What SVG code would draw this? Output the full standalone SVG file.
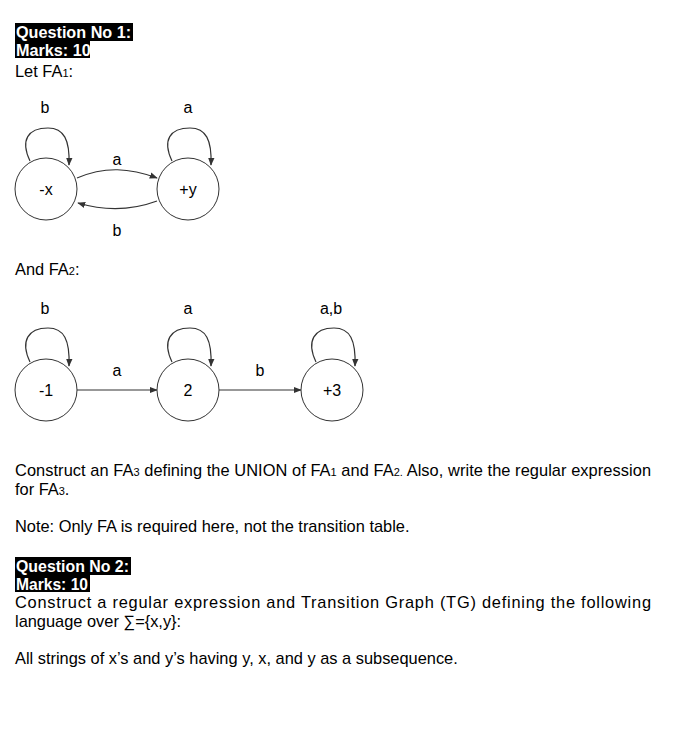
<svg xmlns="http://www.w3.org/2000/svg" width="681" height="729" viewBox="0 0 681 729">
<defs>
<style>
.t{font-family:"Liberation Sans",Arial,sans-serif;font-size:16.4px;fill:#000}
.h{font-family:"Liberation Sans",Arial,sans-serif;font-size:16.2px;font-weight:bold;fill:#fff}
.lbl{font-family:"Liberation Sans",Arial,sans-serif;font-size:16px;fill:#000;text-anchor:middle}
.st{fill:#fff;stroke:#333;stroke-width:1}
.e{fill:none;stroke:#333;stroke-width:1.2;marker-end:url(#ah)}
.sub{font-size:11px}
</style>
<marker id="ah" viewBox="0 0 10 10" refX="9" refY="5" markerWidth="8" markerHeight="8" markerUnits="userSpaceOnUse" orient="auto">
<path d="M0,1 L10,5 L0,9 z" fill="#333"/>
</marker>
</defs>
<rect width="681" height="729" fill="#fff"/>

<g id="header1">
<rect x="15" y="23" width="118" height="18" fill="#000"/>
<rect x="15" y="41" width="75" height="17" fill="#000"/>
<text class="h" x="16" y="38">Question No 1:</text>
<text class="h" x="16" y="56">Marks: 10</text>
</g>
<text class="t" x="15" y="77">Let FA<tspan class="sub">1</tspan>:</text>

<g id="connectors">
<path class="e" d="M30,161 C20,140 28,128 48,128 C64,128 70,140 69,165"/>
<path class="e" d="M172,161 C162,140 170,128 190,128 C206,128 212,140 211,165"/>
<path class="e" d="M77,178 C105,166 130,168 157,178"/>
<path class="e" d="M157,201 C130,211 105,211 78,203"/>
<path class="e" d="M30,362 C20,341 28,328 48,328 C64,328 70,340 69,366"/>
<path class="e" d="M172,362 C162,341 170,328 190,328 C206,328 212,340 211,366"/>
<path class="e" d="M316,362 C306,341 314,328 334,328 C350,328 356,340 355,366"/>
<path class="e" d="M77,390 L157,390"/>
<path class="e" d="M219,390 L301,390"/>
</g>

<g id="edge-labels">
<text class="lbl" x="45" y="113">b</text>
<text class="lbl" x="188" y="113">a</text>
<text class="lbl" x="117" y="165">a</text>
<text class="lbl" x="117" y="236">b</text>
<text class="lbl" x="45" y="314">b</text>
<text class="lbl" x="188" y="314">a</text>
<text class="lbl" x="331" y="314">a,b</text>
<text class="lbl" x="117" y="376">a</text>
<text class="lbl" x="260" y="376">b</text>
</g>

<g id="node-x"><circle class="st" cx="46" cy="189" r="31"/><text class="lbl" x="46" y="195">-x</text></g>
<g id="node-y"><circle class="st" cx="188" cy="189" r="31"/><text class="lbl" x="188" y="195">+y</text></g>
<g id="node-1"><circle class="st" cx="46" cy="390" r="31"/><text class="lbl" x="46" y="396">-1</text></g>
<g id="node-2"><circle class="st" cx="188" cy="390" r="31"/><text class="lbl" x="188" y="396">2</text></g>
<g id="node-3"><circle class="st" cx="332" cy="390" r="31"/><text class="lbl" x="332" y="396">+3</text></g>

<text class="t" x="15" y="275">And FA<tspan class="sub">2</tspan>:</text>

<text class="t" x="15" y="476" textLength="636" lengthAdjust="spacing">Construct an FA<tspan class="sub">3</tspan> defining the UNION of FA<tspan class="sub">1</tspan> and FA<tspan class="sub">2.</tspan> Also, write the regular expression</text>
<text class="t" x="15" y="495">for FA<tspan class="sub">3</tspan>.</text>
<text class="t" x="15" y="532">Note: Only FA is required here, not the transition table.</text>

<g id="header2">
<rect x="15" y="557" width="116" height="18" fill="#000"/>
<rect x="15" y="575" width="75" height="17" fill="#000"/>
<text class="h" x="16" y="572" textLength="113" lengthAdjust="spacingAndGlyphs">Question No 2:</text>
<text class="h" x="16" y="590" textLength="72" lengthAdjust="spacingAndGlyphs">Marks: 10</text>
</g>
<text class="t" x="15" y="608" textLength="636" lengthAdjust="spacing">Construct a regular expression and Transition Graph (TG) defining the following</text>
<text class="t" x="15" y="627">language over ∑={x,y}:</text>
<text class="t" x="15" y="664">All strings of x’s and y’s having y, x, and y as a subsequence.</text>
</svg>
